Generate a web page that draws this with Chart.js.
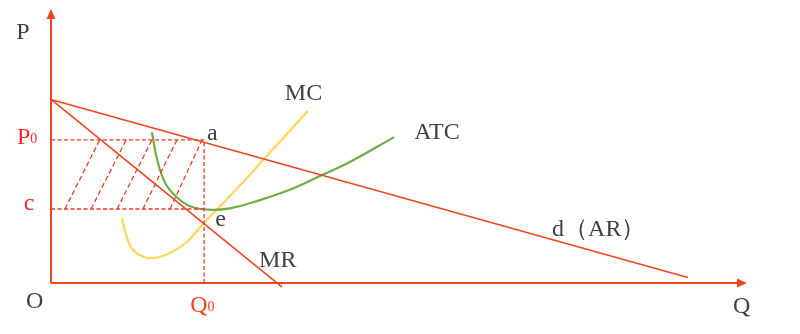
<!DOCTYPE html>
<html>
<head>
<meta charset="utf-8">
<script src="https://cdn.jsdelivr.net/npm/chart.js@4"></script>
<style>
  html, body { margin: 0; padding: 0; background: #fff; }
  #wrap { width: 800px; height: 334px; }
</style>
</head>
<body>
<div id="wrap"><canvas id="chart" width="800" height="334"></canvas></div>
<script>
// Axis ranges (Q across, P up)
const qMax = 100;
const pMax = 40;

// Key levels
const Q0 = 22;
const P0 = 20.9;
const cLevel = 10.8;

// Demand d (AR) and MR, straight lines
const demandQ = [0, 91.5];
const demandP = [26.8, 0.8];
const mrQ = [0, 33.2];
const mrP = [26.8, -0.6];

// Marginal cost
const mcQ = [10.2, 10.8, 11.8, 13.9, 16.4, 19.3, 22.0, 23.9, 27.2, 30.7, 36.9];
const mcP = [9.5, 7.0, 4.8, 3.65, 4.1, 5.8, 8.8, 10.8, 14.3, 18.2, 25.1];

// Average total cost
const atcQ = [14.5, 15.3, 16.4, 18.0, 20.0, 22.5, 25.7, 30.0, 34.3, 38.4, 43.0, 49.3];
const atcP = [22.0, 17.8, 14.6, 12.6, 11.2, 10.7, 10.9, 12.1, 13.6, 15.5, 17.7, 21.3];

// Profit area hatching: bottom (at c) and top (at P0) Q of each stroke
const hatchBottomQ = [2.0, 5.75, 9.5, 13.2, 17.1];
const hatchTopQ = [7.0, 10.8, 14.5, 18.1, 21.7];

// Text labels
const labels = [
  { text: 'P', q: -5.0, p: 35.6, color: '#404040' },
  { text: 'O', q: -3.6, p: -3.65, color: '#404040' },
  { text: 'Q', q: 98.0, p: -4.4, color: '#404040' },
  { text: 'P', sub: '0', q: -4.9, p: 20.3, color: '#f42a2a' },
  { text: 'c', q: -3.9, p: 10.66, color: '#f42a2a' },
  { text: 'Q', sub: '0', q: 20.0, p: -4.2, color: '#e8471f' },
  { text: 'a', q: 22.4, p: 20.9, color: '#404040' },
  { text: 'e', q: 23.6, p: 8.3, color: '#404040' },
  { text: 'MC', q: 33.6, p: 26.7, color: '#404040' },
  { text: 'ATC', q: 52.2, p: 21.0, color: '#404040' },
  { text: 'd（AR）', q: 72.0, p: 6.9, color: '#404040' },
  { text: 'MR', q: 29.9, p: 2.3, color: '#404040' }
];

const red = '#e8471f';
const dashRed = '#ec3a24';

function toPoints(qs, ps) {
  return qs.map((q, i) => ({ x: q, y: ps[i] }));
}

function hatchPoints() {
  const pts = [];
  hatchBottomQ.forEach((q, i) => {
    pts.push({ x: q, y: cLevel });
    pts.push({ x: hatchTopQ[i], y: P0 });
    pts.push({ x: q, y: null });
  });
  return pts;
}

function lineSet(data, color, width, extra) {
  return Object.assign({
    data: data,
    borderColor: color,
    borderWidth: width,
    pointRadius: 0,
    fill: false,
    clip: false,
    tension: 0
  }, extra || {});
}

// Arrow heads and text
const diagramPlugin = {
  id: 'diagram',
  afterDatasetsDraw(chart) {
    const ctx = chart.ctx;
    const xs = chart.scales.x;
    const ys = chart.scales.y;
    const ox = xs.getPixelForValue(0);
    const oy = ys.getPixelForValue(0);
    const tipX = xs.getPixelForValue(qMax);
    const tipY = ys.getPixelForValue(pMax);

    ctx.save();
    ctx.fillStyle = red;
    ctx.beginPath();
    ctx.moveTo(ox, tipY);
    ctx.lineTo(ox - 4.5, tipY + 10);
    ctx.lineTo(ox + 4.5, tipY + 10);
    ctx.closePath();
    ctx.fill();
    ctx.beginPath();
    ctx.moveTo(tipX, oy);
    ctx.lineTo(tipX - 10, oy - 4.5);
    ctx.lineTo(tipX - 10, oy + 4.5);
    ctx.closePath();
    ctx.fill();

    ctx.textBaseline = 'alphabetic';
    ctx.textAlign = 'left';
    labels.forEach(l => {
      const x = xs.getPixelForValue(l.q);
      const y = ys.getPixelForValue(l.p);
      ctx.fillStyle = l.color;
      ctx.font = '24px "Liberation Serif", serif';
      ctx.fillText(l.text, x, y);
      if (l.sub) {
        const w = ctx.measureText(l.text).width;
        ctx.font = '14px "Liberation Serif", serif';
        ctx.fillText(l.sub, x + w, y - 1);
      }
    });
    ctx.restore();
  }
};

new Chart(document.getElementById('chart'), {
  type: 'line',
  data: {
    datasets: [
      lineSet(toPoints([0, qMax - 1.4], [0, 0]), red, 2),
      lineSet(toPoints([0, 0], [0, pMax - 1.4]), red, 2),
      lineSet(toPoints(demandQ, demandP), red, 1.6),
      lineSet(toPoints(mrQ, mrP), red, 1.6),
      lineSet(toPoints([0, Q0], [P0, P0]), dashRed, 1.3, { borderDash: [4, 2.5] }),
      lineSet(toPoints([0, Q0], [cLevel, cLevel]), dashRed, 1.3, { borderDash: [4, 2.5] }),
      lineSet(toPoints([Q0, Q0], [0, P0]), dashRed, 1.3, { borderDash: [4, 2.5] }),
      lineSet(hatchPoints(), dashRed, 1.3, { borderDash: [5, 3], spanGaps: false }),
      lineSet(toPoints(atcQ, atcP), '#70ad47', 2.2, { tension: 0.4 }),
      lineSet(toPoints(mcQ, mcP), '#ffd55a', 2.2, { tension: 0.4 })
    ]
  },
  options: {
    responsive: false,
    animation: false,
    events: [],
    layout: { padding: { left: 51, right: 53, top: 9, bottom: 51 } },
    plugins: { legend: { display: false }, tooltip: { enabled: false } },
    scales: {
      x: { type: 'linear', min: 0, max: qMax, display: false },
      y: { type: 'linear', min: 0, max: pMax, display: false }
    }
  },
  plugins: [diagramPlugin]
});
</script>
</body>
</html>
